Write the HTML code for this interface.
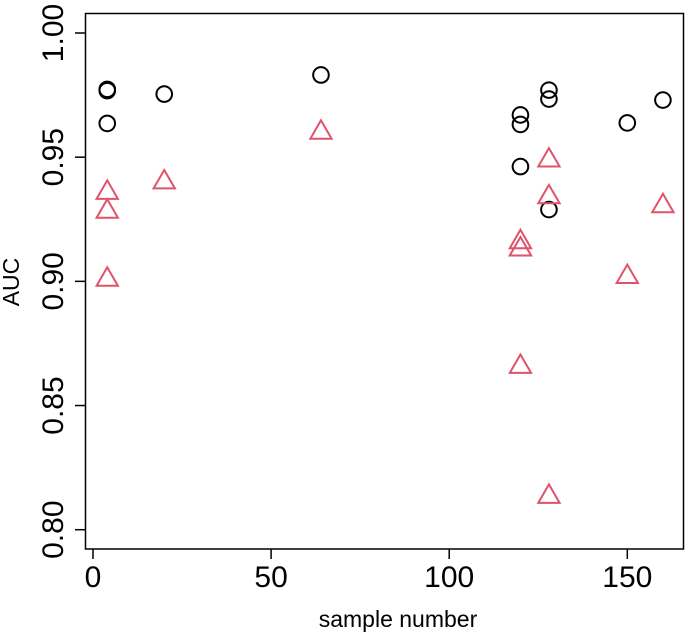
<!DOCTYPE html>
<html><head><meta charset="utf-8"><style>
html,body{margin:0;padding:0;background:#fff;}
svg{display:block;font-family:"Liberation Sans",Arial,sans-serif;}
</style></head><body>
<svg id="chart" width="685" height="634" viewBox="0 0 685 634">
<rect x="85.5" y="13.5" width="598" height="535.5" fill="none" stroke="#000" stroke-width="1.5"/>
<g id="axes"></g>
<g id="pts"></g>
<text x="398" y="627" text-anchor="middle" font-size="23">sample number</text>
<text transform="translate(19,282) rotate(-90)" text-anchor="middle" font-size="23">AUC</text>
</svg>
<script>
const xTicks=[0,50,100,150];
const yTicks=[0.80,0.85,0.90,0.95,1.00];
const yTickLabels=["0.80","0.85","0.90","0.95","1.00"];
const circX=[4,4,4,20,64,120,120,120,128,128,128,150,160];
const circY=[0.9773,0.9768,0.9636,0.9754,0.9831,0.9670,0.9632,0.9462,0.9770,0.9734,0.9289,0.9638,0.9730];
const triX=[4,4,4,20,64,120,120,120,128,128,128,150,160];
const triY=[0.9357,0.9281,0.9007,0.9399,0.9599,0.9158,0.9129,0.8656,0.9487,0.9339,0.8133,0.9018,0.9303];

const NS="http://www.w3.org/2000/svg";
function sx(v){return 93+v*(627.3-93)/150;}
function sy(v){return 33+(1-v)*(529.7-33)/0.2;}
const axes=document.getElementById('axes');
const pts=document.getElementById('pts');
function mk(tag,attrs,parent){const e=document.createElementNS(NS,tag);for(const k in attrs)e.setAttribute(k,attrs[k]);parent.appendChild(e);return e;}
xTicks.forEach(t=>{
  const l=mk('line',{x1:sx(t),x2:sx(t),y1:549,y2:559,stroke:'#000','stroke-width':1.5},axes);
  
  
  const tx=mk('text',{x:sx(t),y:587,'text-anchor':'middle','font-size':30},axes);
  tx.textContent=String(t);
  
  
});
yTicks.forEach((t,i)=>{
  const l=mk('line',{x1:75,x2:85.5,y1:sy(t),y2:sy(t),stroke:'#000','stroke-width':1.5},axes);
  
  
  const tx=mk('text',{transform:`translate(63,${sy(t)}) rotate(-90)`,'text-anchor':'middle','font-size':30},axes);
  tx.textContent=yTickLabels[i];
  
  
});
circX.forEach((x,i)=>{
  const c=mk('circle',{cx:sx(x),cy:sy(circY[i]),r:7.8,fill:'none',stroke:'#000','stroke-width':2},pts);
  
  
});
const r=12.3,hw=r*Math.sqrt(3)/2;
triX.forEach((x,i)=>{
  const cx=sx(x),cy=sy(triY[i]);
  const p=mk('polygon',{points:`${cx},${cy-r} ${cx+hw},${cy+r/2} ${cx-hw},${cy+r/2}`,fill:'none',stroke:'#DF536B','stroke-width':2},pts);
  
  
});
</script>
</body></html>
